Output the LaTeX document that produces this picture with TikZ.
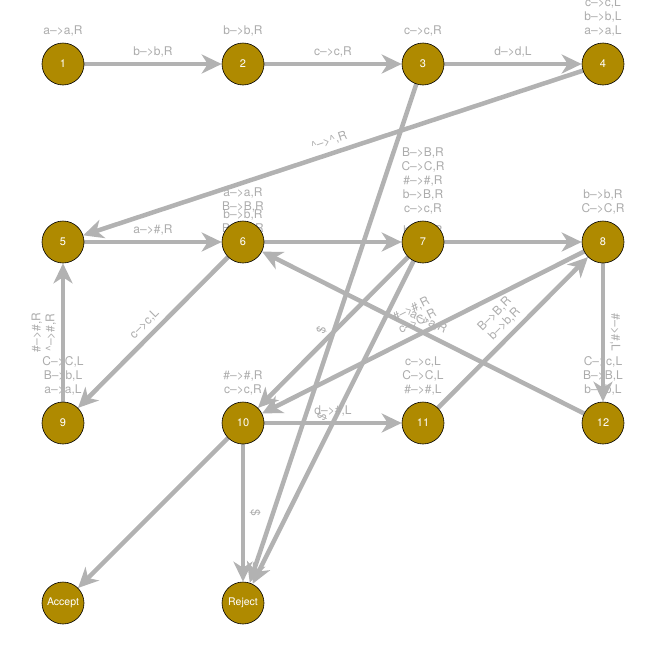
\documentclass[tikz,border=0pt]{standalone}
\usepackage{fontspec}
\setmainfont{TeX Gyre Heros}
\usetikzlibrary{arrows.meta}
\definecolor{statefill}{RGB}{175,138,0}
\definecolor{edgegray}{RGB}{178,178,178}
\definecolor{lblgray}{RGB}{172,172,172}
\pgfdeclarelayer{bg}
\pgfsetlayers{bg,main}
\begin{document}
\begin{tikzpicture}[x=1pt, y=-1pt, font=\fontsize{12}{14}\selectfont, line join=round, >={Stealth[length=20pt,width=19pt,inset=6pt]},
  state/.style={circle, draw=black, line width=0.6pt, fill=statefill, text=white, minimum size=42pt, inner sep=0pt, font=\fontsize{11}{12}\selectfont},
  edge/.style={->, draw=edgegray, line width=4.5pt},
  elbl/.style={text=lblgray, align=center, inner sep=1pt},
  loopl/.style={text=lblgray, align=center, anchor=south, inner sep=0pt}]
\useasboundingbox (0,0) rectangle (652,648);
\def\up{6.5pt}
% states
\foreach \s/\x/\y in {1/63/64, 2/243/64, 3/423/64, 4/603/64, 5/63/242, 6/243/242, 7/423/242, 8/603/242, 9/63/423, 10/243/423, 11/423/423, 12/603/423}
\node[state](n\s) at (\x,\y) {\s};
\node[state, font=\fontsize{10.5}{11}\selectfont](acc) at (63,603) {Accept};
\node[state, font=\fontsize{10.5}{11}\selectfont](rej) at (243,603) {Reject};
\begin{pgfonlayer}{bg}
% labels of the loops
\node[loopl] at ([yshift=\up]n1.north) {a-->a,R};
\node[loopl] at ([yshift=\up]n2.north) {b-->b,R};
\node[loopl] at ([yshift=\up]n3.north) {c-->c,R};
\node[loopl] at ([yshift=\up]n4.north) {c-->c,L\\b-->b,L\\a-->a,L};
\node[loopl] at ([yshift=8.5pt]n6.north) {a-->a,R\\B-->B,R};
\node[loopl] at ([yshift=-13.5pt]n6.north) {b-->b,R\\B-->B,R};
\node[loopl] at ([yshift=\up]n7.north) {B-->B,R\\C-->C,R\\\#-->\#,R\\b-->B,R\\c-->c,R};
\node[loopl] at ([yshift=-15.5pt]n7.north) {b-->b,R};
\node[loopl] at ([yshift=\up]n8.north) {b-->b,R\\C-->C,R};
\node[loopl] at ([yshift=\up]n9.north) {C-->C,L\\B-->b,L\\a-->a,L};
\node[loopl] at ([yshift=\up]n10.north) {\#-->\#,R\\c-->c,R};
\node[loopl] at ([yshift=\up]n11.north) {c-->c,L\\C-->C,L\\\#-->\#,L};
\node[loopl] at ([yshift=\up]n12.north) {C-->c,L\\B-->B,L\\b-->b,L};
% transitions
\draw[edge](n1)--node[elbl, above=3.5pt, sloped]{b-->b,R}(n2);
\draw[edge](n2)--node[elbl, above=3.5pt, sloped]{c-->c,R}(n3);
\draw[edge](n3)--node[elbl, above=3.5pt, sloped]{d-->d,L}(n4);
\draw[edge](n4)--node[elbl, above=3.5pt, sloped]{\textasciicircum-->\textasciicircum,R}(n5);
\draw[edge](n3)--node[elbl, above=3.5pt, sloped]{\$}(rej);
\draw[edge](n5)--node[elbl, above=3.5pt, sloped]{a-->\#,R}(n6);
\draw[edge](n6)--node[elbl, above=3.5pt, sloped]{c-->c,L}(n9);
\draw[edge](n9)--node[elbl, above=3.5pt, sloped]{\#-->\#,R\\\textasciicircum-->\#,R}(n5);
\draw[edge](n6)--(n7);
\draw[edge](n7)--(n8);
\draw[edge](n7)--(n10);
\draw[edge](n7)--node[elbl, above=3.5pt, sloped]{\$}(rej);
\draw[edge](n8)--node[elbl, above=3.5pt, sloped]{\#-->\#,L}(n12);
\draw[edge](n12)--node[elbl, above=3.5pt, sloped]{a-->a,R}(n6);
\draw[edge](n8)--node[elbl, above=3.5pt, sloped]{\#-->\#,R\\c-->C,R}(n10);
\draw[edge](n11)--node[elbl, above=3.5pt, sloped]{B-->B,R\\b-->b,R}(n8);
\draw[edge](n10)--node[elbl, above=3.5pt, sloped]{d-->\#,L}(n11);
\draw[edge](n10)--node[elbl, above=3.5pt, sloped]{\$}(rej);
\draw[edge](n10)--(acc);
\end{pgfonlayer}
\end{tikzpicture}
\end{document}
